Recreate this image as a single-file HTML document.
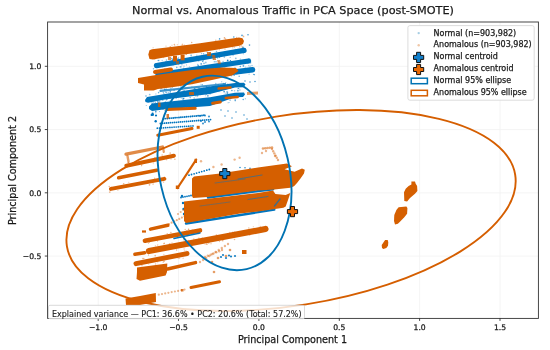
<!DOCTYPE html>
<html><head><meta charset="utf-8"><style>
html,body{margin:0;padding:0;background:#fff;width:550px;height:350px;overflow:hidden}
svg{display:block}
text{font-family:"DejaVu Sans","Liberation Sans",sans-serif;fill:#1a1a1a;stroke:#1a1a1a;stroke-width:0.25px}
</style></head><body>
<svg width="550" height="350" viewBox="0 0 550 350">
<defs><filter id="soft" x="-5%" y="-5%" width="110%" height="110%"><feGaussianBlur stdDeviation="0.45"/></filter></defs>
<rect width="550" height="350" fill="#fff"/>
<!-- grid -->
<g stroke="#f1f1f1" stroke-width="0.8">
<line x1="98.2" y1="22" x2="98.2" y2="318"/>
<line x1="178.5" y1="22" x2="178.5" y2="318"/>
<line x1="258.9" y1="22" x2="258.9" y2="318"/>
<line x1="339.3" y1="22" x2="339.3" y2="318"/>
<line x1="419.6" y1="22" x2="419.6" y2="318"/>
<line x1="500" y1="22" x2="500" y2="318"/>
<line x1="47.6" y1="66.3" x2="538.4" y2="66.3"/>
<line x1="47.6" y1="129.55" x2="538.4" y2="129.55"/>
<line x1="47.6" y1="192.8" x2="538.4" y2="192.8"/>
<line x1="47.6" y1="256.05" x2="538.4" y2="256.05"/>
</g>
<!-- scatter -->
<g id="scatter" filter="url(#soft)">
<line x1="156.5" y1="65.6" x2="244" y2="50.4" stroke="#0474BE" stroke-width="5.3" stroke-linecap="round"/>
<line x1="158" y1="74.8" x2="248.5" y2="61" stroke="#0474BE" stroke-width="5.3" stroke-linecap="round"/>
<line x1="175" y1="79.5" x2="252.5" y2="69.7" stroke="#0474BE" stroke-width="5.5" stroke-linecap="round"/>
<line x1="160.5" y1="90.8" x2="225" y2="84" stroke="#0474BE" stroke-width="2.2" stroke-linecap="round" stroke-opacity="0.75"/>
<polygon points="145,100 147,97 165,93.9 210,86.4 235,83.1 244,82.8 245.5,84.5 243.5,87.3 235,87.6 210,93.9 165,99.6 148,102.8 145.5,102" fill="#0474BE"/>
<polygon points="149,106.5 152,103.5 165,101.9 210,97.3 235,92.8 244,92.5 245,94.5 243,97 235,97.3 210,105.9 165,109.3 152,111 149,109" fill="#0474BE"/>
<circle cx="152.6" cy="113.5" r="1.1" fill="#0474BE"/>
<circle cx="156" cy="115.5" r="1.1" fill="#0474BE"/>
<circle cx="153" cy="114.8" r="1.1" fill="#0474BE"/>
<circle cx="163.6" cy="118.8" r="0.95" fill="#0474BE"/>
<circle cx="165.5" cy="118.6" r="0.95" fill="#0474BE"/>
<circle cx="167.4" cy="118.5" r="0.95" fill="#0474BE"/>
<circle cx="169.4" cy="118.3" r="0.95" fill="#0474BE"/>
<circle cx="171.3" cy="118.1" r="0.95" fill="#0474BE"/>
<circle cx="173.2" cy="118.0" r="0.95" fill="#0474BE"/>
<circle cx="175.1" cy="117.8" r="0.95" fill="#0474BE"/>
<circle cx="177.0" cy="117.6" r="0.95" fill="#0474BE"/>
<circle cx="179.0" cy="117.5" r="0.95" fill="#0474BE"/>
<circle cx="180.9" cy="117.3" r="0.95" fill="#0474BE"/>
<circle cx="182.8" cy="117.1" r="0.95" fill="#0474BE"/>
<circle cx="184.7" cy="117.0" r="0.95" fill="#0474BE"/>
<circle cx="186.6" cy="116.8" r="0.95" fill="#0474BE"/>
<circle cx="188.5" cy="116.6" r="0.95" fill="#0474BE"/>
<circle cx="190.5" cy="116.5" r="0.95" fill="#0474BE"/>
<circle cx="192.4" cy="116.3" r="0.95" fill="#0474BE"/>
<circle cx="194.3" cy="116.1" r="0.95" fill="#0474BE"/>
<circle cx="196.2" cy="116.0" r="0.95" fill="#0474BE"/>
<circle cx="198.1" cy="115.8" r="0.95" fill="#0474BE"/>
<circle cx="200.1" cy="115.6" r="0.95" fill="#0474BE"/>
<circle cx="202.0" cy="115.5" r="0.95" fill="#0474BE"/>
<circle cx="203.9" cy="115.3" r="0.95" fill="#0474BE"/>
<circle cx="160.4" cy="123.5" r="0.9" fill="#0474BE"/>
<circle cx="162.4" cy="123.3" r="0.9" fill="#0474BE"/>
<circle cx="164.4" cy="123.2" r="0.9" fill="#0474BE"/>
<circle cx="166.4" cy="123.0" r="0.9" fill="#0474BE"/>
<circle cx="168.4" cy="122.9" r="0.9" fill="#0474BE"/>
<circle cx="170.4" cy="122.7" r="0.9" fill="#0474BE"/>
<circle cx="172.4" cy="122.6" r="0.9" fill="#0474BE"/>
<circle cx="174.4" cy="122.4" r="0.9" fill="#0474BE"/>
<circle cx="176.4" cy="122.3" r="0.9" fill="#0474BE"/>
<circle cx="178.4" cy="122.1" r="0.9" fill="#0474BE"/>
<circle cx="180.4" cy="121.9" r="0.9" fill="#0474BE"/>
<circle cx="182.4" cy="121.8" r="0.9" fill="#0474BE"/>
<circle cx="184.4" cy="121.6" r="0.9" fill="#0474BE"/>
<circle cx="186.5" cy="121.5" r="0.9" fill="#0474BE"/>
<circle cx="188.5" cy="121.3" r="0.9" fill="#0474BE"/>
<circle cx="190.5" cy="121.2" r="0.9" fill="#0474BE"/>
<circle cx="192.5" cy="121.0" r="0.9" fill="#0474BE"/>
<circle cx="194.5" cy="120.8" r="0.9" fill="#0474BE"/>
<circle cx="196.5" cy="120.7" r="0.9" fill="#0474BE"/>
<circle cx="198.5" cy="120.5" r="0.9" fill="#0474BE"/>
<circle cx="200.5" cy="120.4" r="0.9" fill="#0474BE"/>
<circle cx="202.5" cy="120.2" r="0.9" fill="#0474BE"/>
<circle cx="204.5" cy="120.1" r="0.9" fill="#0474BE"/>
<circle cx="206.5" cy="119.9" r="0.9" fill="#0474BE"/>
<circle cx="208.5" cy="119.8" r="0.9" fill="#0474BE"/>
<circle cx="210.5" cy="119.6" r="0.9" fill="#0474BE"/>
<circle cx="157.3" cy="128.2" r="0.85" fill="#0474BE"/>
<circle cx="159.4" cy="128.1" r="0.85" fill="#0474BE"/>
<circle cx="161.5" cy="127.9" r="0.85" fill="#0474BE"/>
<circle cx="163.6" cy="127.8" r="0.85" fill="#0474BE"/>
<circle cx="165.7" cy="127.7" r="0.85" fill="#0474BE"/>
<circle cx="167.8" cy="127.5" r="0.85" fill="#0474BE"/>
<circle cx="169.9" cy="127.4" r="0.85" fill="#0474BE"/>
<circle cx="172.0" cy="127.3" r="0.85" fill="#0474BE"/>
<circle cx="174.1" cy="127.1" r="0.85" fill="#0474BE"/>
<circle cx="176.2" cy="127.0" r="0.85" fill="#0474BE"/>
<circle cx="178.3" cy="126.8" r="0.85" fill="#0474BE"/>
<circle cx="180.4" cy="126.7" r="0.85" fill="#0474BE"/>
<circle cx="182.5" cy="126.6" r="0.85" fill="#0474BE"/>
<circle cx="184.6" cy="126.4" r="0.85" fill="#0474BE"/>
<circle cx="186.7" cy="126.3" r="0.85" fill="#0474BE"/>
<circle cx="188.8" cy="126.2" r="0.85" fill="#0474BE"/>
<circle cx="190.9" cy="126.0" r="0.85" fill="#0474BE"/>
<circle cx="193.0" cy="125.9" r="0.85" fill="#0474BE"/>
<circle cx="151.8" cy="114.9" r="1.2" fill="#0474BE"/>
<circle cx="155.7" cy="121.2" r="1.2" fill="#0474BE"/>
<polygon points="166.5,114 169,114 169,118.5 166.5,118.5" fill="#D55E00" fill-opacity="0.8"/>
<circle cx="219.6" cy="38.9" r="0.8" fill="#0474BE" fill-opacity="0.7"/>
<circle cx="233.8" cy="37" r="0.8" fill="#0474BE" fill-opacity="0.7"/>
<circle cx="242" cy="35.4" r="0.8" fill="#0474BE" fill-opacity="0.7"/>
<circle cx="248" cy="34.8" r="0.8" fill="#0474BE" fill-opacity="0.7"/>
<circle cx="249.5" cy="45.1" r="0.8" fill="#0474BE" fill-opacity="0.7"/>
<circle cx="245" cy="81" r="0.8" fill="#0474BE" fill-opacity="0.7"/>
<circle cx="250" cy="82" r="0.8" fill="#0474BE" fill-opacity="0.7"/>
<circle cx="255" cy="81.5" r="0.8" fill="#0474BE" fill-opacity="0.7"/>
<circle cx="221" cy="110" r="0.8" fill="#0474BE" fill-opacity="0.7"/>
<circle cx="228" cy="111" r="0.8" fill="#0474BE" fill-opacity="0.7"/>
<circle cx="236" cy="112" r="0.8" fill="#0474BE" fill-opacity="0.7"/>
<circle cx="244" cy="115" r="0.8" fill="#0474BE" fill-opacity="0.7"/>
<circle cx="247" cy="119" r="0.8" fill="#0474BE" fill-opacity="0.7"/>
<circle cx="232" cy="118" r="0.8" fill="#0474BE" fill-opacity="0.7"/>
<circle cx="225" cy="116" r="0.8" fill="#0474BE" fill-opacity="0.7"/>
<circle cx="181.8" cy="57.9" r="0.52" fill="#0474BE" fill-opacity="0.63"/>
<circle cx="159.2" cy="60.3" r="0.59" fill="#0474BE" fill-opacity="0.33"/>
<circle cx="191.1" cy="57.2" r="0.67" fill="#0474BE" fill-opacity="0.63"/>
<circle cx="162.2" cy="60.6" r="0.73" fill="#0474BE" fill-opacity="0.32"/>
<circle cx="207.0" cy="52.0" r="0.52" fill="#0474BE" fill-opacity="0.64"/>
<circle cx="178.4" cy="58.1" r="0.73" fill="#0474BE" fill-opacity="0.52"/>
<circle cx="216.5" cy="51.4" r="0.76" fill="#0474BE" fill-opacity="0.45"/>
<circle cx="203.5" cy="53.7" r="0.75" fill="#0474BE" fill-opacity="0.50"/>
<circle cx="203.1" cy="60.7" r="0.87" fill="#0474BE" fill-opacity="0.44"/>
<circle cx="174.3" cy="58.3" r="0.60" fill="#0474BE" fill-opacity="0.53"/>
<circle cx="202.6" cy="61.5" r="0.62" fill="#0474BE" fill-opacity="0.69"/>
<circle cx="162.7" cy="66.7" r="0.64" fill="#0474BE" fill-opacity="0.67"/>
<circle cx="191.1" cy="55.3" r="0.73" fill="#0474BE" fill-opacity="0.65"/>
<circle cx="181.9" cy="64.7" r="0.73" fill="#0474BE" fill-opacity="0.48"/>
<circle cx="233.1" cy="55.6" r="0.77" fill="#0474BE" fill-opacity="0.32"/>
<circle cx="219.5" cy="57.4" r="0.65" fill="#0474BE" fill-opacity="0.57"/>
<circle cx="153.5" cy="68.8" r="0.74" fill="#0474BE" fill-opacity="0.50"/>
<circle cx="172.4" cy="65.0" r="0.60" fill="#0474BE" fill-opacity="0.46"/>
<circle cx="235.2" cy="49.4" r="0.66" fill="#0474BE" fill-opacity="0.41"/>
<circle cx="164.9" cy="68.3" r="0.61" fill="#0474BE" fill-opacity="0.47"/>
<circle cx="186.5" cy="64.9" r="0.56" fill="#0474BE" fill-opacity="0.37"/>
<circle cx="173.1" cy="60.5" r="0.83" fill="#0474BE" fill-opacity="0.37"/>
<circle cx="177.7" cy="58.6" r="0.65" fill="#0474BE" fill-opacity="0.53"/>
<circle cx="243.0" cy="47.3" r="0.85" fill="#0474BE" fill-opacity="0.68"/>
<circle cx="217.5" cy="58.0" r="0.66" fill="#0474BE" fill-opacity="0.49"/>
<circle cx="189.4" cy="57.5" r="0.58" fill="#0474BE" fill-opacity="0.36"/>
<circle cx="183.5" cy="58.5" r="0.73" fill="#0474BE" fill-opacity="0.51"/>
<circle cx="242.7" cy="48.4" r="0.58" fill="#0474BE" fill-opacity="0.45"/>
<circle cx="213.1" cy="59.3" r="0.69" fill="#0474BE" fill-opacity="0.35"/>
<circle cx="198.8" cy="61.4" r="0.62" fill="#0474BE" fill-opacity="0.36"/>
<circle cx="224.3" cy="57.1" r="0.78" fill="#0474BE" fill-opacity="0.51"/>
<circle cx="171.2" cy="65.2" r="0.72" fill="#0474BE" fill-opacity="0.31"/>
<circle cx="201.5" cy="53.7" r="0.60" fill="#0474BE" fill-opacity="0.45"/>
<circle cx="166.5" cy="60.1" r="0.81" fill="#0474BE" fill-opacity="0.43"/>
<circle cx="171.8" cy="58.5" r="0.83" fill="#0474BE" fill-opacity="0.60"/>
<circle cx="173.4" cy="65.5" r="0.51" fill="#0474BE" fill-opacity="0.31"/>
<circle cx="178.4" cy="64.1" r="0.74" fill="#0474BE" fill-opacity="0.44"/>
<circle cx="230.2" cy="57.4" r="0.65" fill="#0474BE" fill-opacity="0.39"/>
<circle cx="172.4" cy="59.7" r="0.69" fill="#0474BE" fill-opacity="0.69"/>
<circle cx="209.6" cy="52.9" r="0.76" fill="#0474BE" fill-opacity="0.62"/>
<circle cx="158.3" cy="60.5" r="0.81" fill="#0474BE" fill-opacity="0.60"/>
<circle cx="196.8" cy="55.2" r="0.75" fill="#0474BE" fill-opacity="0.33"/>
<circle cx="243.4" cy="53.8" r="0.80" fill="#0474BE" fill-opacity="0.33"/>
<circle cx="165.9" cy="61.7" r="0.74" fill="#0474BE" fill-opacity="0.49"/>
<circle cx="215.2" cy="59.1" r="0.64" fill="#0474BE" fill-opacity="0.52"/>
<circle cx="167.2" cy="69.0" r="0.79" fill="#0474BE" fill-opacity="0.34"/>
<circle cx="227.8" cy="60.4" r="0.85" fill="#0474BE" fill-opacity="0.63"/>
<circle cx="176.1" cy="74.6" r="0.70" fill="#0474BE" fill-opacity="0.61"/>
<circle cx="187.6" cy="74.5" r="0.52" fill="#0474BE" fill-opacity="0.60"/>
<circle cx="243.5" cy="65.6" r="0.85" fill="#0474BE" fill-opacity="0.35"/>
<circle cx="169.2" cy="68.5" r="0.81" fill="#0474BE" fill-opacity="0.54"/>
<circle cx="230.5" cy="60.7" r="0.69" fill="#0474BE" fill-opacity="0.59"/>
<circle cx="210.1" cy="70.5" r="0.71" fill="#0474BE" fill-opacity="0.49"/>
<circle cx="230.5" cy="60.5" r="0.61" fill="#0474BE" fill-opacity="0.61"/>
<circle cx="204.0" cy="63.3" r="0.86" fill="#0474BE" fill-opacity="0.48"/>
<circle cx="214.3" cy="61.8" r="0.68" fill="#0474BE" fill-opacity="0.51"/>
<circle cx="201.2" cy="63.9" r="0.85" fill="#0474BE" fill-opacity="0.68"/>
<circle cx="179.8" cy="66.9" r="0.55" fill="#0474BE" fill-opacity="0.35"/>
<circle cx="197.7" cy="64.5" r="0.67" fill="#0474BE" fill-opacity="0.39"/>
<circle cx="184.0" cy="66.1" r="0.56" fill="#0474BE" fill-opacity="0.59"/>
<circle cx="219.2" cy="62.3" r="0.55" fill="#0474BE" fill-opacity="0.49"/>
<circle cx="227.5" cy="60.5" r="0.69" fill="#0474BE" fill-opacity="0.70"/>
<circle cx="235.8" cy="58.3" r="0.90" fill="#0474BE" fill-opacity="0.46"/>
<circle cx="196.7" cy="71.6" r="0.79" fill="#0474BE" fill-opacity="0.31"/>
<circle cx="209.9" cy="70.6" r="0.65" fill="#0474BE" fill-opacity="0.51"/>
<circle cx="183.6" cy="68.4" r="0.87" fill="#0474BE" fill-opacity="0.39"/>
<circle cx="240.3" cy="58.9" r="0.52" fill="#0474BE" fill-opacity="0.61"/>
<circle cx="180.8" cy="66.8" r="0.84" fill="#0474BE" fill-opacity="0.57"/>
<circle cx="247.9" cy="63.0" r="0.87" fill="#0474BE" fill-opacity="0.53"/>
<circle cx="223.1" cy="61.6" r="0.82" fill="#0474BE" fill-opacity="0.37"/>
<circle cx="243.3" cy="66.0" r="0.75" fill="#0474BE" fill-opacity="0.62"/>
<circle cx="162.9" cy="71.8" r="0.85" fill="#0474BE" fill-opacity="0.48"/>
<circle cx="189.0" cy="74.6" r="0.61" fill="#0474BE" fill-opacity="0.35"/>
<circle cx="205.8" cy="62.5" r="0.89" fill="#0474BE" fill-opacity="0.40"/>
<circle cx="173.4" cy="76.2" r="0.71" fill="#0474BE" fill-opacity="0.38"/>
<circle cx="198.2" cy="65.6" r="0.82" fill="#0474BE" fill-opacity="0.70"/>
<circle cx="158.1" cy="70.7" r="0.72" fill="#0474BE" fill-opacity="0.38"/>
<circle cx="201.9" cy="70.2" r="0.83" fill="#0474BE" fill-opacity="0.47"/>
<circle cx="204.2" cy="72.3" r="0.62" fill="#0474BE" fill-opacity="0.39"/>
<circle cx="176.8" cy="67.4" r="0.78" fill="#0474BE" fill-opacity="0.55"/>
<circle cx="195.4" cy="73.7" r="0.83" fill="#0474BE" fill-opacity="0.31"/>
<circle cx="216.7" cy="68.8" r="0.52" fill="#0474BE" fill-opacity="0.57"/>
<circle cx="192.9" cy="73.0" r="0.78" fill="#0474BE" fill-opacity="0.32"/>
<circle cx="173.7" cy="75.7" r="0.61" fill="#0474BE" fill-opacity="0.68"/>
<circle cx="250.5" cy="62.8" r="0.89" fill="#0474BE" fill-opacity="0.42"/>
<circle cx="189.5" cy="66.8" r="0.53" fill="#0474BE" fill-opacity="0.41"/>
<circle cx="218.6" cy="61.6" r="0.50" fill="#0474BE" fill-opacity="0.41"/>
<circle cx="164.5" cy="77.5" r="0.66" fill="#0474BE" fill-opacity="0.42"/>
<circle cx="216.0" cy="61.8" r="0.71" fill="#0474BE" fill-opacity="0.60"/>
<circle cx="220.0" cy="69.2" r="0.79" fill="#0474BE" fill-opacity="0.50"/>
<circle cx="196.7" cy="74.2" r="0.83" fill="#0474BE" fill-opacity="0.66"/>
<circle cx="224.8" cy="68.2" r="0.80" fill="#0474BE" fill-opacity="0.53"/>
<circle cx="240.3" cy="66.4" r="0.73" fill="#0474BE" fill-opacity="0.66"/>
<circle cx="229.7" cy="69.9" r="0.52" fill="#0474BE" fill-opacity="0.55"/>
<circle cx="253.6" cy="74.4" r="0.72" fill="#0474BE" fill-opacity="0.55"/>
<circle cx="224.9" cy="69.3" r="0.50" fill="#0474BE" fill-opacity="0.62"/>
<circle cx="235.0" cy="67.6" r="0.53" fill="#0474BE" fill-opacity="0.59"/>
<circle cx="193.7" cy="72.3" r="0.59" fill="#0474BE" fill-opacity="0.60"/>
<circle cx="193.0" cy="81.1" r="0.65" fill="#0474BE" fill-opacity="0.49"/>
<circle cx="229.6" cy="68.4" r="0.76" fill="#0474BE" fill-opacity="0.33"/>
<circle cx="186.2" cy="82.4" r="0.78" fill="#0474BE" fill-opacity="0.55"/>
<circle cx="184.8" cy="80.9" r="0.61" fill="#0474BE" fill-opacity="0.57"/>
<circle cx="231.3" cy="75.7" r="0.71" fill="#0474BE" fill-opacity="0.49"/>
<circle cx="211.4" cy="69.6" r="0.72" fill="#0474BE" fill-opacity="0.42"/>
<circle cx="180.8" cy="81.3" r="0.68" fill="#0474BE" fill-opacity="0.63"/>
<circle cx="254.4" cy="74.7" r="0.65" fill="#0474BE" fill-opacity="0.67"/>
<circle cx="250.1" cy="65.9" r="0.56" fill="#0474BE" fill-opacity="0.51"/>
<circle cx="252.0" cy="65.6" r="0.75" fill="#0474BE" fill-opacity="0.41"/>
<circle cx="183.1" cy="81.6" r="0.86" fill="#0474BE" fill-opacity="0.49"/>
<circle cx="174.8" cy="74.4" r="0.77" fill="#0474BE" fill-opacity="0.46"/>
<circle cx="234.2" cy="75.4" r="0.63" fill="#0474BE" fill-opacity="0.64"/>
<circle cx="174.2" cy="84.4" r="0.55" fill="#0474BE" fill-opacity="0.67"/>
<circle cx="233.0" cy="75.3" r="0.53" fill="#0474BE" fill-opacity="0.46"/>
<circle cx="245.2" cy="67.1" r="0.67" fill="#0474BE" fill-opacity="0.41"/>
<circle cx="177.1" cy="76.6" r="0.76" fill="#0474BE" fill-opacity="0.55"/>
<circle cx="186.2" cy="81.8" r="0.63" fill="#0474BE" fill-opacity="0.61"/>
<circle cx="239.2" cy="76.3" r="0.82" fill="#0474BE" fill-opacity="0.55"/>
<circle cx="248.7" cy="65.7" r="0.52" fill="#0474BE" fill-opacity="0.59"/>
<circle cx="210.3" cy="70.7" r="0.61" fill="#0474BE" fill-opacity="0.32"/>
<circle cx="250.0" cy="67.1" r="0.67" fill="#0474BE" fill-opacity="0.41"/>
<circle cx="195.1" cy="80.6" r="0.60" fill="#0474BE" fill-opacity="0.49"/>
<circle cx="228.5" cy="69.8" r="0.56" fill="#0474BE" fill-opacity="0.38"/>
<circle cx="249.1" cy="74.1" r="0.68" fill="#0474BE" fill-opacity="0.43"/>
<circle cx="236.8" cy="74.5" r="0.58" fill="#0474BE" fill-opacity="0.34"/>
<circle cx="201.4" cy="72.8" r="0.65" fill="#0474BE" fill-opacity="0.62"/>
<circle cx="163.3" cy="92.4" r="0.67" fill="#0474BE" fill-opacity="0.47"/>
<circle cx="195.8" cy="95.8" r="0.80" fill="#0474BE" fill-opacity="0.50"/>
<circle cx="200.6" cy="94.6" r="0.70" fill="#0474BE" fill-opacity="0.55"/>
<circle cx="227.6" cy="84.3" r="0.86" fill="#0474BE" fill-opacity="0.45"/>
<circle cx="207.9" cy="95.8" r="0.84" fill="#0474BE" fill-opacity="0.65"/>
<circle cx="146.0" cy="96.0" r="0.81" fill="#0474BE" fill-opacity="0.62"/>
<circle cx="238.7" cy="88.4" r="0.66" fill="#0474BE" fill-opacity="0.67"/>
<circle cx="225.3" cy="93.2" r="0.60" fill="#0474BE" fill-opacity="0.34"/>
<circle cx="158.6" cy="92.6" r="0.79" fill="#0474BE" fill-opacity="0.56"/>
<circle cx="219.0" cy="91.6" r="0.81" fill="#0474BE" fill-opacity="0.30"/>
<circle cx="155.9" cy="93.9" r="0.62" fill="#0474BE" fill-opacity="0.35"/>
<circle cx="169.6" cy="101.0" r="0.54" fill="#0474BE" fill-opacity="0.33"/>
<circle cx="194.7" cy="88.6" r="0.59" fill="#0474BE" fill-opacity="0.54"/>
<circle cx="146.3" cy="105.5" r="0.61" fill="#0474BE" fill-opacity="0.43"/>
<circle cx="225.2" cy="83.6" r="0.59" fill="#0474BE" fill-opacity="0.40"/>
<circle cx="238.0" cy="88.6" r="0.58" fill="#0474BE" fill-opacity="0.65"/>
<circle cx="206.6" cy="87.1" r="0.77" fill="#0474BE" fill-opacity="0.67"/>
<circle cx="165.7" cy="92.2" r="0.79" fill="#0474BE" fill-opacity="0.44"/>
<circle cx="182.1" cy="89.4" r="0.80" fill="#0474BE" fill-opacity="0.50"/>
<circle cx="163.8" cy="93.6" r="0.83" fill="#0474BE" fill-opacity="0.39"/>
<circle cx="166.4" cy="99.8" r="0.75" fill="#0474BE" fill-opacity="0.54"/>
<circle cx="231.9" cy="90.6" r="0.77" fill="#0474BE" fill-opacity="0.68"/>
<circle cx="159.1" cy="100.8" r="0.51" fill="#0474BE" fill-opacity="0.54"/>
<circle cx="184.2" cy="90.8" r="0.68" fill="#0474BE" fill-opacity="0.58"/>
<circle cx="174.1" cy="90.1" r="0.87" fill="#0474BE" fill-opacity="0.43"/>
<circle cx="162.8" cy="100.2" r="0.77" fill="#0474BE" fill-opacity="0.45"/>
<circle cx="181.3" cy="98.5" r="0.54" fill="#0474BE" fill-opacity="0.33"/>
<circle cx="153.1" cy="104.3" r="0.55" fill="#0474BE" fill-opacity="0.69"/>
<circle cx="165.3" cy="101.9" r="0.62" fill="#0474BE" fill-opacity="0.62"/>
<circle cx="153.4" cy="102.1" r="0.72" fill="#0474BE" fill-opacity="0.48"/>
<circle cx="176.2" cy="98.1" r="0.66" fill="#0474BE" fill-opacity="0.62"/>
<circle cx="218.2" cy="85.0" r="0.69" fill="#0474BE" fill-opacity="0.62"/>
<circle cx="149.7" cy="94.5" r="0.86" fill="#0474BE" fill-opacity="0.44"/>
<circle cx="170.3" cy="92.7" r="0.79" fill="#0474BE" fill-opacity="0.43"/>
<circle cx="170.4" cy="91.4" r="0.74" fill="#0474BE" fill-opacity="0.62"/>
<circle cx="235.8" cy="83.3" r="0.59" fill="#0474BE" fill-opacity="0.49"/>
<circle cx="237.9" cy="90.7" r="0.87" fill="#0474BE" fill-opacity="0.63"/>
<circle cx="157.8" cy="101.4" r="0.82" fill="#0474BE" fill-opacity="0.60"/>
<circle cx="223.5" cy="83.5" r="0.63" fill="#0474BE" fill-opacity="0.43"/>
<circle cx="178.9" cy="90.7" r="0.66" fill="#0474BE" fill-opacity="0.36"/>
<circle cx="183.3" cy="90.1" r="0.72" fill="#0474BE" fill-opacity="0.36"/>
<circle cx="184.9" cy="88.4" r="0.61" fill="#0474BE" fill-opacity="0.33"/>
<circle cx="154.6" cy="104.1" r="0.89" fill="#0474BE" fill-opacity="0.37"/>
<circle cx="158.0" cy="102.6" r="0.77" fill="#0474BE" fill-opacity="0.60"/>
<circle cx="225.8" cy="82.7" r="0.62" fill="#0474BE" fill-opacity="0.41"/>
<circle cx="175.4" cy="109.4" r="0.58" fill="#0474BE" fill-opacity="0.40"/>
<circle cx="171.9" cy="100.5" r="0.86" fill="#0474BE" fill-opacity="0.38"/>
<circle cx="155.8" cy="112.8" r="0.70" fill="#0474BE" fill-opacity="0.39"/>
<circle cx="228.1" cy="102.7" r="0.54" fill="#0474BE" fill-opacity="0.49"/>
<circle cx="229.1" cy="102.4" r="0.52" fill="#0474BE" fill-opacity="0.42"/>
<circle cx="159.6" cy="101.3" r="0.83" fill="#0474BE" fill-opacity="0.38"/>
<circle cx="155.3" cy="102.3" r="0.60" fill="#0474BE" fill-opacity="0.61"/>
<circle cx="239.9" cy="90.0" r="0.78" fill="#0474BE" fill-opacity="0.44"/>
<circle cx="152.8" cy="110.8" r="0.58" fill="#0474BE" fill-opacity="0.40"/>
<circle cx="206.2" cy="94.2" r="0.83" fill="#0474BE" fill-opacity="0.46"/>
<circle cx="185.3" cy="106.1" r="0.51" fill="#0474BE" fill-opacity="0.50"/>
<circle cx="196.1" cy="104.7" r="0.66" fill="#0474BE" fill-opacity="0.52"/>
<circle cx="210.1" cy="94.1" r="0.66" fill="#0474BE" fill-opacity="0.41"/>
<circle cx="245.3" cy="98.7" r="0.52" fill="#0474BE" fill-opacity="0.60"/>
<circle cx="235.2" cy="100.1" r="0.85" fill="#0474BE" fill-opacity="0.70"/>
<circle cx="183.4" cy="98.6" r="0.66" fill="#0474BE" fill-opacity="0.68"/>
<circle cx="190.2" cy="97.5" r="0.83" fill="#0474BE" fill-opacity="0.46"/>
<circle cx="235.2" cy="101.1" r="0.55" fill="#0474BE" fill-opacity="0.32"/>
<circle cx="163.0" cy="109.2" r="0.75" fill="#0474BE" fill-opacity="0.45"/>
<circle cx="197.1" cy="96.8" r="0.56" fill="#0474BE" fill-opacity="0.37"/>
<circle cx="155.8" cy="111.4" r="0.82" fill="#0474BE" fill-opacity="0.69"/>
<circle cx="167.1" cy="99.6" r="0.52" fill="#0474BE" fill-opacity="0.67"/>
<circle cx="179.7" cy="106.9" r="0.78" fill="#0474BE" fill-opacity="0.58"/>
<circle cx="234.6" cy="90.8" r="0.75" fill="#0474BE" fill-opacity="0.38"/>
<circle cx="194.2" cy="98.1" r="0.88" fill="#0474BE" fill-opacity="0.36"/>
<circle cx="183.0" cy="99.0" r="0.79" fill="#0474BE" fill-opacity="0.66"/>
<circle cx="151.9" cy="102.2" r="0.63" fill="#0474BE" fill-opacity="0.46"/>
<circle cx="193.6" cy="106.6" r="0.62" fill="#0474BE" fill-opacity="0.40"/>
<circle cx="187.1" cy="106.9" r="0.68" fill="#0474BE" fill-opacity="0.31"/>
<circle cx="209.4" cy="103.9" r="0.68" fill="#0474BE" fill-opacity="0.55"/>
<circle cx="227.5" cy="91.3" r="0.66" fill="#0474BE" fill-opacity="0.33"/>
<circle cx="184.0" cy="106.3" r="0.68" fill="#0474BE" fill-opacity="0.50"/>
<circle cx="152.1" cy="103.8" r="0.79" fill="#0474BE" fill-opacity="0.61"/>
<circle cx="197.6" cy="95.6" r="0.86" fill="#0474BE" fill-opacity="0.56"/>
<circle cx="224.1" cy="91.6" r="0.90" fill="#0474BE" fill-opacity="0.59"/>
<circle cx="227.4" cy="93.2" r="0.85" fill="#0474BE" fill-opacity="0.42"/>
<circle cx="226.8" cy="91.7" r="0.79" fill="#0474BE" fill-opacity="0.39"/>
<circle cx="230.1" cy="100.1" r="0.86" fill="#0474BE" fill-opacity="0.41"/>
<circle cx="227.4" cy="92.9" r="0.89" fill="#0474BE" fill-opacity="0.49"/>
<circle cx="205.6" cy="95.7" r="0.51" fill="#0474BE" fill-opacity="0.37"/>
<circle cx="165.0" cy="110.6" r="0.86" fill="#0474BE" fill-opacity="0.37"/>
<circle cx="224.2" cy="91.8" r="0.52" fill="#0474BE" fill-opacity="0.64"/>
<circle cx="243.2" cy="99.4" r="0.73" fill="#0474BE" fill-opacity="0.65"/>
<circle cx="159.5" cy="111.6" r="0.65" fill="#0474BE" fill-opacity="0.45"/>
<circle cx="183.9" cy="98.6" r="0.81" fill="#0474BE" fill-opacity="0.48"/>
<circle cx="170.9" cy="88.3" r="0.71" fill="#0474BE" fill-opacity="0.42"/>
<circle cx="224.3" cy="86.8" r="0.80" fill="#0474BE" fill-opacity="0.39"/>
<circle cx="178.9" cy="90.9" r="0.65" fill="#0474BE" fill-opacity="0.32"/>
<circle cx="191.9" cy="86.8" r="0.50" fill="#0474BE" fill-opacity="0.44"/>
<circle cx="166.6" cy="92.5" r="0.67" fill="#0474BE" fill-opacity="0.42"/>
<circle cx="168.4" cy="92.6" r="0.69" fill="#0474BE" fill-opacity="0.35"/>
<circle cx="221.7" cy="81.7" r="0.68" fill="#0474BE" fill-opacity="0.33"/>
<circle cx="169.1" cy="91.9" r="0.61" fill="#0474BE" fill-opacity="0.30"/>
<circle cx="202.7" cy="88.8" r="0.73" fill="#0474BE" fill-opacity="0.54"/>
<circle cx="194.1" cy="88.8" r="0.86" fill="#0474BE" fill-opacity="0.32"/>
<circle cx="195.0" cy="88.5" r="0.56" fill="#0474BE" fill-opacity="0.66"/>
<circle cx="166.1" cy="89.3" r="0.58" fill="#0474BE" fill-opacity="0.54"/>
<circle cx="193.5" cy="90.4" r="0.57" fill="#0474BE" fill-opacity="0.42"/>
<circle cx="179.0" cy="85.5" r="0.79" fill="#0474BE" fill-opacity="0.49"/>
<circle cx="195.7" cy="90.3" r="0.80" fill="#0474BE" fill-opacity="0.49"/>
<circle cx="209.1" cy="86.9" r="0.90" fill="#0474BE" fill-opacity="0.40"/>
<circle cx="202.2" cy="84.8" r="0.80" fill="#0474BE" fill-opacity="0.58"/>
<circle cx="215.8" cy="83.5" r="0.72" fill="#0474BE" fill-opacity="0.47"/>
<circle cx="212.3" cy="86.9" r="0.87" fill="#0474BE" fill-opacity="0.66"/>
<circle cx="164.8" cy="89.3" r="0.86" fill="#0474BE" fill-opacity="0.64"/>
<circle cx="172.5" cy="86.9" r="0.63" fill="#0474BE" fill-opacity="0.65"/>
<circle cx="181.1" cy="87.0" r="0.84" fill="#0474BE" fill-opacity="0.67"/>
<circle cx="225.3" cy="86.0" r="0.71" fill="#0474BE" fill-opacity="0.30"/>
<circle cx="160.7" cy="88.7" r="0.62" fill="#0474BE" fill-opacity="0.38"/>
<circle cx="200.7" cy="84.3" r="0.57" fill="#0474BE" fill-opacity="0.31"/>
<circle cx="166.5" cy="88.7" r="0.56" fill="#0474BE" fill-opacity="0.31"/>
<circle cx="161.7" cy="88.2" r="0.79" fill="#0474BE" fill-opacity="0.33"/>
<circle cx="199.0" cy="88.1" r="0.88" fill="#0474BE" fill-opacity="0.51"/>
<circle cx="203.9" cy="87.3" r="0.58" fill="#0474BE" fill-opacity="0.34"/>
<circle cx="161.2" cy="87.9" r="0.75" fill="#0474BE" fill-opacity="0.41"/>
<circle cx="189.0" cy="175.2" r="0.9" fill="#0474BE"/>
<circle cx="191.5" cy="174.5" r="0.9" fill="#0474BE"/>
<circle cx="194.1" cy="173.8" r="0.9" fill="#0474BE"/>
<circle cx="196.6" cy="173.1" r="0.9" fill="#0474BE"/>
<circle cx="199.2" cy="172.3" r="0.9" fill="#0474BE"/>
<circle cx="201.7" cy="171.6" r="0.9" fill="#0474BE"/>
<circle cx="204.2" cy="170.9" r="0.9" fill="#0474BE"/>
<circle cx="206.8" cy="170.2" r="0.9" fill="#0474BE"/>
<circle cx="209.3" cy="169.5" r="0.9" fill="#0474BE"/>
<circle cx="240" cy="167.5" r="0.8" fill="#0474BE" fill-opacity="0.8"/>
<circle cx="245" cy="167.8" r="0.8" fill="#0474BE" fill-opacity="0.8"/>
<circle cx="250" cy="168.4" r="0.8" fill="#0474BE" fill-opacity="0.8"/>
<line x1="208" y1="197.5" x2="273.1" y2="189.2" stroke="#0474BE" stroke-width="2.4" stroke-linecap="round"/>
<line x1="186" y1="223.5" x2="274.3" y2="209.6" stroke="#0474BE" stroke-width="2.4" stroke-linecap="round"/>
<circle cx="182" cy="196" r="1.2" fill="#0474BE"/>
<circle cx="183" cy="203" r="1.2" fill="#0474BE"/>
<circle cx="183.5" cy="209" r="1.2" fill="#0474BE"/>
<circle cx="184" cy="214" r="1.2" fill="#0474BE"/>
<circle cx="186" cy="217" r="1.2" fill="#0474BE"/>
<circle cx="181.0" cy="197.5" r="0.9" fill="#0474BE"/>
<circle cx="183.0" cy="197.1" r="0.9" fill="#0474BE"/>
<circle cx="185.0" cy="196.7" r="0.9" fill="#0474BE"/>
<circle cx="187.0" cy="196.3" r="0.9" fill="#0474BE"/>
<circle cx="189.0" cy="195.9" r="0.9" fill="#0474BE"/>
<circle cx="191.0" cy="195.5" r="0.9" fill="#0474BE"/>
<polygon points="152,49.2 175,46.6 200,43.2 239,37.6 242.5,38.3 244,41 243,44 239.5,45.8 200,52.4 175,55.6 153,59.6 149.5,59 148.3,54.5 149.5,50.3" fill="#D55E00"/>
<line x1="155" y1="72" x2="171" y2="69.5" stroke="#D55E00" stroke-width="4" stroke-linecap="round"/>
<polygon points="173,55.7 177,55.7 177,61.4 173,61.4" fill="#D55E00"/>
<polygon points="180.6,54.6 184.6,54.6 184.6,60.3 180.6,60.3" fill="#D55E00"/>
<polygon points="207,52 211,52 211,56 207,56" fill="#D55E00" fill-opacity="0.8"/>
<polygon points="212,55 215,55 216,60 213,60" fill="#D55E00" fill-opacity="0.7"/>
<polygon points="217,60 220,60 221,64 218,64" fill="#D55E00" fill-opacity="0.6"/>
<polygon points="168,57 171,57 171,60 168,60" fill="#D55E00" fill-opacity="0.7"/>
<polygon points="176,61 179,61 179,64 176,64" fill="#D55E00" fill-opacity="0.6"/>
<polygon points="138,78 156,75 192,70 222,67.5 236,68 238.5,71 232,75.5 212,80 192,84.2 172,87.2 158,89 153.6,90.6 144,90.5 144,84.5 138,83" fill="#D55E00"/>
<line x1="166.8" y1="109.6" x2="195.2" y2="108.3" stroke="#D55E00" stroke-width="3" stroke-linecap="round"/>
<line x1="212.6" y1="103.2" x2="220.3" y2="102" stroke="#D55E00" stroke-width="3" stroke-linecap="round"/>
<line x1="218.6" y1="88.6" x2="230.5" y2="87.4" stroke="#D55E00" stroke-width="2.5" stroke-linecap="round"/>
<line x1="225.7" y1="98" x2="237.6" y2="97" stroke="#D55E00" stroke-width="2.5" stroke-linecap="round"/>
<polygon points="189,92 194,92 194,95 189,95" fill="#D55E00" fill-opacity="0.8"/>
<polygon points="158,102.5 160.5,102.5 160.5,107 158,107" fill="#D55E00" fill-opacity="0.8"/>
<polygon points="247,92 258,91.5 258,94.5 247,95" fill="#D55E00" fill-opacity="0.6"/>
<line x1="157.8" y1="135.3" x2="192" y2="128.5" stroke="#D55E00" stroke-width="3" stroke-linecap="round"/>
<polygon points="196.7,125.8 199.7,125.8 199.7,128.8 196.7,128.8" fill="#D55E00"/>
<line x1="126" y1="154.2" x2="162.5" y2="147" stroke="#D55E00" stroke-width="3.3" stroke-linecap="round" stroke-opacity="0.72"/>
<line x1="127.5" y1="156" x2="128.5" y2="161.5" stroke="#D55E00" stroke-width="2.4" stroke-linecap="round" stroke-opacity="0.6"/>
<line x1="163.2" y1="148" x2="163.8" y2="152" stroke="#D55E00" stroke-width="2.2" stroke-linecap="round" stroke-opacity="0.6"/>
<line x1="126.3" y1="165.7" x2="173.9" y2="155.7" stroke="#D55E00" stroke-width="4" stroke-linecap="round"/>
<line x1="118.6" y1="177.8" x2="156.7" y2="170.3" stroke="#D55E00" stroke-width="3.5" stroke-linecap="round"/>
<line x1="110.9" y1="188.9" x2="164.4" y2="178.9" stroke="#D55E00" stroke-width="4" stroke-linecap="round"/>
<line x1="177.5" y1="188" x2="196.2" y2="159.6" stroke="#D55E00" stroke-width="2.2" stroke-linecap="round"/>
<polygon points="175.8,185.5 179.2,185.5 179.2,189 175.8,189" fill="#D55E00"/>
<polygon points="194.5,158.8 197,158.8 197,163 194.5,163" fill="#D55E00"/>
<circle cx="201" cy="161.3" r="1.2" fill="#D55E00" fill-opacity="0.45"/>
<circle cx="221.6" cy="164.5" r="1.2" fill="#D55E00" fill-opacity="0.45"/>
<circle cx="234.6" cy="159.6" r="1.2" fill="#D55E00" fill-opacity="0.45"/>
<circle cx="239.6" cy="157.7" r="1.2" fill="#D55E00" fill-opacity="0.45"/>
<circle cx="213.4" cy="167" r="1.2" fill="#D55E00" fill-opacity="0.45"/>
<polygon points="192,178.5 194,176.5 218,173.8 258,167.5 286.9,163.4 292,166.3 284.5,169.3 294.6,171.8 302,168.6 304.8,169.8 304,173.5 300.5,178.5 297,183 294,186.3 290.3,187.7 274.3,189.6 258,190.5 208,197 193,198 192,196" fill="#D55E00"/>
<polygon points="184,201.5 258,193 273,190.5 275.4,194 285.7,195.1 290.3,192.9 288,200 285.7,206.6 283.4,207.7 258,211.5 240,213.6 186,223 184,221" fill="#D55E00"/>
<line x1="238" y1="179" x2="262" y2="175" stroke="#0474BE" stroke-width="1" stroke-linecap="round" stroke-opacity="0.6"/>
<line x1="215" y1="183" x2="245" y2="179" stroke="#0474BE" stroke-width="0.9" stroke-linecap="round" stroke-opacity="0.5"/>
<line x1="248" y1="199.5" x2="268" y2="196.5" stroke="#0474BE" stroke-width="1" stroke-linecap="round" stroke-opacity="0.6"/>
<line x1="274.5" y1="206" x2="280" y2="199" stroke="#0474BE" stroke-width="1.4" stroke-linecap="round" stroke-opacity="0.7"/>
<line x1="200" y1="206" x2="230" y2="202" stroke="#0474BE" stroke-width="0.9" stroke-linecap="round" stroke-opacity="0.45"/>
<circle cx="178.0" cy="214.0" r="1.1" fill="#D55E00" fill-opacity="0.45"/>
<circle cx="180.7" cy="212.0" r="1.1" fill="#D55E00" fill-opacity="0.45"/>
<circle cx="183.3" cy="210.0" r="1.1" fill="#D55E00" fill-opacity="0.45"/>
<circle cx="186.0" cy="208.0" r="1.1" fill="#D55E00" fill-opacity="0.45"/>
<polygon points="142,230.4 146,230.4 146,232.6 142,232.6" fill="#D55E00"/>
<line x1="150.5" y1="229.1" x2="167.8" y2="225.3" stroke="#D55E00" stroke-width="3.5" stroke-linecap="round"/>
<circle cx="169.0" cy="224.0" r="1.1" fill="#D55E00" fill-opacity="0.5"/>
<circle cx="171.6" cy="222.7" r="1.1" fill="#D55E00" fill-opacity="0.5"/>
<circle cx="174.2" cy="221.4" r="1.1" fill="#D55E00" fill-opacity="0.5"/>
<circle cx="176.8" cy="220.2" r="1.1" fill="#D55E00" fill-opacity="0.5"/>
<circle cx="179.3" cy="218.9" r="1.1" fill="#D55E00" fill-opacity="0.5"/>
<circle cx="181.9" cy="217.6" r="1.1" fill="#D55E00" fill-opacity="0.5"/>
<circle cx="184.5" cy="216.3" r="1.1" fill="#D55E00" fill-opacity="0.5"/>
<line x1="144.9" y1="240.7" x2="200" y2="230.4" stroke="#D55E00" stroke-width="4.6" stroke-linecap="round"/>
<line x1="174" y1="238.5" x2="200" y2="233" stroke="#0474BE" stroke-width="1.5" stroke-linecap="round"/>
<line x1="148.9" y1="251" x2="265.5" y2="229" stroke="#D55E00" stroke-width="6.2" stroke-linecap="round"/>
<line x1="134.9" y1="254.2" x2="144.7" y2="252.8" stroke="#D55E00" stroke-width="3.5" stroke-linecap="round"/>
<line x1="136" y1="263.6" x2="187" y2="253.6" stroke="#D55E00" stroke-width="5" stroke-linecap="round"/>
<polygon points="137,267.6 167.3,263.5 167,272 165.6,275.5 140,280.8 136.5,279 137,272" fill="#D55E00"/>
<line x1="167.5" y1="269" x2="195.5" y2="262.6" stroke="#D55E00" stroke-width="3.5" stroke-linecap="round"/>
<circle cx="200.0" cy="262.0" r="1.2" fill="#D55E00" fill-opacity="0.45"/>
<circle cx="203.1" cy="260.0" r="1.2" fill="#D55E00" fill-opacity="0.45"/>
<circle cx="206.2" cy="258.0" r="1.2" fill="#D55E00" fill-opacity="0.45"/>
<circle cx="209.3" cy="256.0" r="1.2" fill="#D55E00" fill-opacity="0.45"/>
<circle cx="212.4" cy="254.0" r="1.2" fill="#D55E00" fill-opacity="0.45"/>
<circle cx="215.6" cy="252.0" r="1.2" fill="#D55E00" fill-opacity="0.45"/>
<circle cx="218.7" cy="250.0" r="1.2" fill="#D55E00" fill-opacity="0.45"/>
<circle cx="221.8" cy="248.0" r="1.2" fill="#D55E00" fill-opacity="0.45"/>
<circle cx="224.9" cy="246.0" r="1.2" fill="#D55E00" fill-opacity="0.45"/>
<circle cx="228.0" cy="244.0" r="1.2" fill="#D55E00" fill-opacity="0.45"/>
<circle cx="205.0" cy="257.0" r="1.2" fill="#D55E00" fill-opacity="0.45"/>
<circle cx="207.8" cy="255.8" r="1.2" fill="#D55E00" fill-opacity="0.45"/>
<circle cx="210.7" cy="254.7" r="1.2" fill="#D55E00" fill-opacity="0.45"/>
<circle cx="213.5" cy="253.5" r="1.2" fill="#D55E00" fill-opacity="0.45"/>
<circle cx="216.3" cy="252.3" r="1.2" fill="#D55E00" fill-opacity="0.45"/>
<circle cx="219.2" cy="251.2" r="1.2" fill="#D55E00" fill-opacity="0.45"/>
<circle cx="222.0" cy="250.0" r="1.2" fill="#D55E00" fill-opacity="0.45"/>
<circle cx="214" cy="272" r="1.3" fill="#D55E00" fill-opacity="0.6"/>
<circle cx="226" cy="256" r="1.3" fill="#D55E00" fill-opacity="0.6"/>
<circle cx="230" cy="250" r="1.3" fill="#D55E00" fill-opacity="0.6"/>
<circle cx="212" cy="262" r="1.3" fill="#D55E00" fill-opacity="0.6"/>
<circle cx="218" cy="258" r="1.3" fill="#D55E00" fill-opacity="0.6"/>
<circle cx="221" cy="257" r="1.1" fill="#0474BE" fill-opacity="0.9"/>
<circle cx="226" cy="258" r="1.1" fill="#0474BE" fill-opacity="0.9"/>
<circle cx="231" cy="256.5" r="1.1" fill="#0474BE" fill-opacity="0.9"/>
<circle cx="235" cy="256" r="1.1" fill="#0474BE" fill-opacity="0.9"/>
<circle cx="223" cy="255" r="1.1" fill="#0474BE" fill-opacity="0.9"/>
<circle cx="229" cy="255.5" r="1.1" fill="#0474BE" fill-opacity="0.9"/>
<polygon points="242,250 246.5,250 246.5,254 242,254" fill="#D55E00"/>
<line x1="191" y1="287.5" x2="219.5" y2="281.8" stroke="#D55E00" stroke-width="3" stroke-linecap="round"/>
<polygon points="181,289 183.5,289 183.5,291.5 181,291.5" fill="#D55E00" fill-opacity="0.8"/>
<circle cx="158.8" cy="294.7" r="1.1" fill="#D55E00" fill-opacity="0.45"/>
<circle cx="162.0" cy="294.1" r="1.1" fill="#D55E00" fill-opacity="0.45"/>
<circle cx="165.2" cy="293.4" r="1.1" fill="#D55E00" fill-opacity="0.45"/>
<circle cx="168.4" cy="292.8" r="1.1" fill="#D55E00" fill-opacity="0.45"/>
<circle cx="171.7" cy="292.1" r="1.1" fill="#D55E00" fill-opacity="0.45"/>
<circle cx="174.9" cy="291.5" r="1.1" fill="#D55E00" fill-opacity="0.45"/>
<circle cx="178.1" cy="290.9" r="1.1" fill="#D55E00" fill-opacity="0.45"/>
<circle cx="181.3" cy="290.2" r="1.1" fill="#D55E00" fill-opacity="0.45"/>
<circle cx="184.5" cy="289.6" r="1.1" fill="#D55E00" fill-opacity="0.45"/>
<polygon points="125.5,298.5 140,296 155.8,293 156,302 140,305 126,305" fill="#D55E00"/>
<circle cx="263.0" cy="148.5" r="1.3" fill="#D55E00" fill-opacity="0.55"/>
<circle cx="265.2" cy="148.2" r="1.3" fill="#D55E00" fill-opacity="0.55"/>
<circle cx="267.5" cy="148.0" r="1.3" fill="#D55E00" fill-opacity="0.55"/>
<circle cx="269.8" cy="147.8" r="1.3" fill="#D55E00" fill-opacity="0.55"/>
<circle cx="272.0" cy="147.5" r="1.3" fill="#D55E00" fill-opacity="0.55"/>
<circle cx="272.0" cy="149.0" r="1.2" fill="#D55E00" fill-opacity="0.5"/>
<circle cx="273.2" cy="151.2" r="1.2" fill="#D55E00" fill-opacity="0.5"/>
<circle cx="274.4" cy="153.4" r="1.2" fill="#D55E00" fill-opacity="0.5"/>
<circle cx="275.6" cy="155.6" r="1.2" fill="#D55E00" fill-opacity="0.5"/>
<circle cx="276.8" cy="157.8" r="1.2" fill="#D55E00" fill-opacity="0.5"/>
<circle cx="278.0" cy="160.0" r="1.2" fill="#D55E00" fill-opacity="0.5"/>
<circle cx="262" cy="153" r="1.2" fill="#D55E00" fill-opacity="0.45"/>
<circle cx="266" cy="151" r="1.2" fill="#D55E00" fill-opacity="0.45"/>
<circle cx="275" cy="156" r="1.2" fill="#D55E00" fill-opacity="0.45"/>
<circle cx="200" cy="116" r="1.0" fill="#0474BE" fill-opacity="0.8"/>
<circle cx="205" cy="115.5" r="1.0" fill="#0474BE" fill-opacity="0.8"/>
<circle cx="209" cy="116.5" r="1.0" fill="#0474BE" fill-opacity="0.8"/>
<circle cx="201" cy="121" r="1.0" fill="#0474BE" fill-opacity="0.8"/>
<circle cx="205" cy="122" r="1.0" fill="#0474BE" fill-opacity="0.8"/>
<circle cx="209" cy="121.5" r="1.0" fill="#0474BE" fill-opacity="0.8"/>
<circle cx="203" cy="123.5" r="1.0" fill="#0474BE" fill-opacity="0.8"/>
<circle cx="157.7" cy="245.0" r="0.76" fill="#D55E00" fill-opacity="0.34"/>
<circle cx="187.8" cy="246.2" r="0.60" fill="#D55E00" fill-opacity="0.33"/>
<circle cx="234.5" cy="239.5" r="0.81" fill="#D55E00" fill-opacity="0.43"/>
<circle cx="205.1" cy="244.4" r="0.51" fill="#D55E00" fill-opacity="0.37"/>
<circle cx="198.9" cy="238.3" r="0.78" fill="#D55E00" fill-opacity="0.41"/>
<circle cx="172.0" cy="242.8" r="0.61" fill="#D55E00" fill-opacity="0.38"/>
<circle cx="211.0" cy="243.6" r="0.89" fill="#D55E00" fill-opacity="0.25"/>
<circle cx="206.9" cy="244.2" r="0.83" fill="#D55E00" fill-opacity="0.54"/>
<circle cx="219.3" cy="241.6" r="0.56" fill="#D55E00" fill-opacity="0.49"/>
<circle cx="260.2" cy="226.4" r="0.54" fill="#D55E00" fill-opacity="0.44"/>
<circle cx="155.4" cy="245.8" r="0.64" fill="#D55E00" fill-opacity="0.37"/>
<circle cx="193.8" cy="239.0" r="0.76" fill="#D55E00" fill-opacity="0.36"/>
<circle cx="184.1" cy="248.9" r="0.70" fill="#D55E00" fill-opacity="0.36"/>
<circle cx="253.3" cy="226.7" r="0.55" fill="#D55E00" fill-opacity="0.43"/>
<circle cx="229.8" cy="232.5" r="0.63" fill="#D55E00" fill-opacity="0.30"/>
<circle cx="249.7" cy="234.9" r="0.68" fill="#D55E00" fill-opacity="0.48"/>
<circle cx="216.4" cy="235.0" r="0.76" fill="#D55E00" fill-opacity="0.46"/>
<circle cx="208.8" cy="242.9" r="0.78" fill="#D55E00" fill-opacity="0.50"/>
<circle cx="164.3" cy="243.3" r="0.79" fill="#D55E00" fill-opacity="0.43"/>
<circle cx="188.2" cy="240.3" r="0.58" fill="#D55E00" fill-opacity="0.54"/>
<circle cx="234.7" cy="232.0" r="0.76" fill="#D55E00" fill-opacity="0.31"/>
<circle cx="163.9" cy="243.8" r="0.79" fill="#D55E00" fill-opacity="0.38"/>
<circle cx="169.6" cy="243.9" r="0.85" fill="#D55E00" fill-opacity="0.39"/>
<circle cx="148.5" cy="255.1" r="0.70" fill="#D55E00" fill-opacity="0.44"/>
<circle cx="202.3" cy="237.9" r="0.80" fill="#D55E00" fill-opacity="0.25"/>
<circle cx="176.6" cy="249.9" r="0.73" fill="#D55E00" fill-opacity="0.44"/>
<circle cx="248.8" cy="228.1" r="0.76" fill="#D55E00" fill-opacity="0.39"/>
<circle cx="183.6" cy="239.8" r="0.60" fill="#D55E00" fill-opacity="0.37"/>
<circle cx="232.7" cy="232.2" r="0.67" fill="#D55E00" fill-opacity="0.39"/>
<circle cx="222.8" cy="240.8" r="0.76" fill="#D55E00" fill-opacity="0.51"/>
<circle cx="183.1" cy="258.2" r="0.66" fill="#D55E00" fill-opacity="0.40"/>
<circle cx="186.2" cy="251.2" r="0.59" fill="#D55E00" fill-opacity="0.46"/>
<circle cx="184.8" cy="250.8" r="0.54" fill="#D55E00" fill-opacity="0.42"/>
<circle cx="164.1" cy="261.3" r="0.76" fill="#D55E00" fill-opacity="0.50"/>
<circle cx="163.2" cy="262.1" r="0.68" fill="#D55E00" fill-opacity="0.55"/>
<circle cx="143.8" cy="258.5" r="0.75" fill="#D55E00" fill-opacity="0.44"/>
<circle cx="148.7" cy="264.1" r="0.51" fill="#D55E00" fill-opacity="0.38"/>
<circle cx="157.8" cy="262.8" r="0.54" fill="#D55E00" fill-opacity="0.34"/>
<circle cx="155.2" cy="255.6" r="0.88" fill="#D55E00" fill-opacity="0.39"/>
<circle cx="142.7" cy="258.5" r="0.75" fill="#D55E00" fill-opacity="0.39"/>
<circle cx="163.9" cy="254.3" r="0.56" fill="#D55E00" fill-opacity="0.45"/>
<circle cx="179.6" cy="258.2" r="0.62" fill="#D55E00" fill-opacity="0.41"/>
<circle cx="141.9" cy="265.4" r="0.84" fill="#D55E00" fill-opacity="0.33"/>
<circle cx="155.6" cy="264.1" r="0.77" fill="#D55E00" fill-opacity="0.39"/>
<circle cx="178.2" cy="258.2" r="0.76" fill="#D55E00" fill-opacity="0.35"/>
<circle cx="170.9" cy="232.5" r="0.64" fill="#D55E00" fill-opacity="0.53"/>
<circle cx="192.4" cy="229.9" r="0.73" fill="#D55E00" fill-opacity="0.35"/>
<circle cx="198.4" cy="233.9" r="0.51" fill="#D55E00" fill-opacity="0.25"/>
<circle cx="198.7" cy="232.9" r="0.54" fill="#D55E00" fill-opacity="0.29"/>
<circle cx="157.5" cy="240.9" r="0.56" fill="#D55E00" fill-opacity="0.52"/>
<circle cx="188.6" cy="229.4" r="0.78" fill="#D55E00" fill-opacity="0.54"/>
<circle cx="149.2" cy="242.1" r="0.78" fill="#D55E00" fill-opacity="0.41"/>
<circle cx="186.9" cy="236.1" r="0.55" fill="#D55E00" fill-opacity="0.29"/>
<circle cx="167.2" cy="233.7" r="0.72" fill="#D55E00" fill-opacity="0.40"/>
<circle cx="196.1" cy="233.4" r="0.57" fill="#D55E00" fill-opacity="0.43"/>
<circle cx="185.2" cy="229.5" r="0.69" fill="#D55E00" fill-opacity="0.42"/>
<circle cx="182.3" cy="236.3" r="0.67" fill="#D55E00" fill-opacity="0.54"/>
<circle cx="148.5" cy="243.2" r="0.51" fill="#D55E00" fill-opacity="0.43"/>
<circle cx="183.5" cy="237.1" r="0.54" fill="#D55E00" fill-opacity="0.40"/>
<circle cx="186.8" cy="231.0" r="0.79" fill="#D55E00" fill-opacity="0.44"/>
<circle cx="141.7" cy="164.9" r="0.81" fill="#D55E00" fill-opacity="0.39"/>
<circle cx="171.0" cy="159.0" r="0.67" fill="#D55E00" fill-opacity="0.39"/>
<circle cx="166.6" cy="159.7" r="0.70" fill="#D55E00" fill-opacity="0.33"/>
<circle cx="174.9" cy="159.3" r="0.76" fill="#D55E00" fill-opacity="0.45"/>
<circle cx="141.5" cy="165.8" r="0.55" fill="#D55E00" fill-opacity="0.49"/>
<circle cx="128.0" cy="162.8" r="0.72" fill="#D55E00" fill-opacity="0.35"/>
<circle cx="153.7" cy="162.3" r="0.50" fill="#D55E00" fill-opacity="0.30"/>
<circle cx="170.2" cy="153.1" r="0.86" fill="#D55E00" fill-opacity="0.40"/>
<circle cx="154.9" cy="157.5" r="0.77" fill="#D55E00" fill-opacity="0.36"/>
<circle cx="162.2" cy="155.0" r="0.85" fill="#D55E00" fill-opacity="0.36"/>
<circle cx="128.6" cy="162.7" r="0.83" fill="#D55E00" fill-opacity="0.45"/>
<circle cx="153.3" cy="163.6" r="0.57" fill="#D55E00" fill-opacity="0.26"/>
<circle cx="109.2" cy="186.4" r="0.71" fill="#D55E00" fill-opacity="0.46"/>
<circle cx="153.1" cy="184.0" r="0.87" fill="#D55E00" fill-opacity="0.36"/>
<circle cx="109.8" cy="192.1" r="0.90" fill="#D55E00" fill-opacity="0.41"/>
<circle cx="117.9" cy="190.5" r="0.53" fill="#D55E00" fill-opacity="0.37"/>
<circle cx="159.1" cy="177.2" r="0.50" fill="#D55E00" fill-opacity="0.42"/>
<circle cx="164.3" cy="176.7" r="0.55" fill="#D55E00" fill-opacity="0.37"/>
<circle cx="123.7" cy="183.8" r="0.80" fill="#D55E00" fill-opacity="0.48"/>
<circle cx="128.8" cy="182.2" r="0.53" fill="#D55E00" fill-opacity="0.41"/>
<circle cx="149.5" cy="184.8" r="0.86" fill="#D55E00" fill-opacity="0.48"/>
<circle cx="111.2" cy="187.1" r="0.51" fill="#D55E00" fill-opacity="0.41"/>
<circle cx="154.6" cy="178.2" r="0.62" fill="#D55E00" fill-opacity="0.40"/>
<circle cx="163.6" cy="182.1" r="0.63" fill="#D55E00" fill-opacity="0.49"/>
<circle cx="219.3" cy="49.7" r="0.56" fill="#D55E00" fill-opacity="0.45"/>
<circle cx="182.5" cy="44.1" r="0.67" fill="#D55E00" fill-opacity="0.35"/>
<circle cx="225.0" cy="49.2" r="0.73" fill="#D55E00" fill-opacity="0.32"/>
<circle cx="154.8" cy="59.2" r="0.79" fill="#D55E00" fill-opacity="0.25"/>
<circle cx="163.5" cy="57.3" r="0.89" fill="#D55E00" fill-opacity="0.31"/>
<circle cx="186.3" cy="54.2" r="0.86" fill="#D55E00" fill-opacity="0.45"/>
<circle cx="174.9" cy="45.8" r="0.61" fill="#D55E00" fill-opacity="0.29"/>
<circle cx="236.5" cy="37.3" r="0.56" fill="#D55E00" fill-opacity="0.47"/>
<circle cx="243.5" cy="36.4" r="0.84" fill="#D55E00" fill-opacity="0.45"/>
<circle cx="215.0" cy="49.6" r="0.53" fill="#D55E00" fill-opacity="0.39"/>
<circle cx="224.5" cy="37.9" r="0.79" fill="#D55E00" fill-opacity="0.50"/>
<circle cx="177.3" cy="44.8" r="0.69" fill="#D55E00" fill-opacity="0.30"/>
<circle cx="172.0" cy="45.3" r="0.68" fill="#D55E00" fill-opacity="0.27"/>
<circle cx="225.5" cy="39.0" r="0.73" fill="#D55E00" fill-opacity="0.47"/>
<circle cx="234.4" cy="47.2" r="0.74" fill="#D55E00" fill-opacity="0.30"/>
<circle cx="166.0" cy="46.1" r="0.62" fill="#D55E00" fill-opacity="0.39"/>
<circle cx="182.2" cy="45.0" r="0.87" fill="#D55E00" fill-opacity="0.37"/>
<circle cx="232.7" cy="47.8" r="0.81" fill="#D55E00" fill-opacity="0.29"/>
<circle cx="206.5" cy="50.7" r="0.74" fill="#D55E00" fill-opacity="0.27"/>
<circle cx="168.7" cy="56.6" r="0.59" fill="#D55E00" fill-opacity="0.48"/>
<circle cx="174.4" cy="44.6" r="0.81" fill="#D55E00" fill-opacity="0.45"/>
<circle cx="242.1" cy="46.9" r="0.64" fill="#D55E00" fill-opacity="0.50"/>
<circle cx="184.2" cy="45.1" r="0.72" fill="#D55E00" fill-opacity="0.47"/>
<circle cx="191.7" cy="42.4" r="0.76" fill="#D55E00" fill-opacity="0.48"/>
<circle cx="215.8" cy="40.3" r="0.73" fill="#D55E00" fill-opacity="0.41"/>
<circle cx="241.2" cy="45.6" r="0.84" fill="#D55E00" fill-opacity="0.34"/>
<circle cx="170.3" cy="46.8" r="0.88" fill="#D55E00" fill-opacity="0.49"/>
<circle cx="153.1" cy="47.8" r="0.52" fill="#D55E00" fill-opacity="0.45"/>
<circle cx="217.3" cy="48.7" r="0.56" fill="#D55E00" fill-opacity="0.44"/>
<circle cx="239.7" cy="46.7" r="0.68" fill="#D55E00" fill-opacity="0.41"/>
<polygon points="411.4,181.6 415,181.6 415.7,183.7 417.1,185.9 417.4,190.9 415,193.7 410,198 407.1,201.6 404.3,200.9 404,192.3 405.7,188.7 408.6,185.9 411.4,184.4" fill="#D55E00"/>
<polygon points="398.6,207.3 406.4,206.6 407.4,208 407.1,213.7 404.3,217.3 400.7,220.9 397.9,223.7 395,224.4 394,220.9 394.3,215.1 396.4,210.1" fill="#D55E00"/>
<polygon points="385.1,240 387.7,240 388.3,242.3 388,245.7 386.3,248 383.4,248.9 382,248 381.7,245.1 383.4,242.6" fill="#D55E00"/>
</g>
<!-- ellipses -->
<ellipse cx="291.05" cy="210.53" rx="226.97" ry="95.09" transform="rotate(-9.07 291.05 210.53)" fill="none" stroke="#D55E00" stroke-width="1.9"/>
<ellipse cx="224.54" cy="172.93" rx="98.66" ry="64.73" transform="rotate(77.1 224.54 172.93)" fill="none" stroke="#0072B2" stroke-width="1.9"/>
<!-- centroids -->
<path d="M-2,-5.1h4v3.1h3.1v4h-3.1v3.1h-4v-3.1h-3.1v-4h3.1z" transform="translate(224.8 173.6)" fill="#1380CC" stroke="#111" stroke-width="1"/>
<path d="M-2,-5.1h4v3.1h3.1v4h-3.1v3.1h-4v-3.1h-3.1v-4h3.1z" transform="translate(292.5 211.6)" fill="#EA6A05" stroke="#111" stroke-width="1"/>
<!-- spines -->
<rect x="47.6" y="22" width="490.8" height="296.4" fill="none" stroke="#333" stroke-width="0.9"/>
<!-- ticks -->
<g stroke="#333" stroke-width="0.9">
<line x1="98.2" y1="318" x2="98.2" y2="320.9"/>
<line x1="178.5" y1="318" x2="178.5" y2="320.9"/>
<line x1="258.9" y1="318" x2="258.9" y2="320.9"/>
<line x1="339.3" y1="318" x2="339.3" y2="320.9"/>
<line x1="419.6" y1="318" x2="419.6" y2="320.9"/>
<line x1="500" y1="318" x2="500" y2="320.9"/>
<line x1="44.8" y1="66.3" x2="47.6" y2="66.3"/>
<line x1="44.8" y1="129.55" x2="47.6" y2="129.55"/>
<line x1="44.8" y1="192.8" x2="47.6" y2="192.8"/>
<line x1="44.8" y1="256.05" x2="47.6" y2="256.05"/>
</g>
<!-- explained variance box -->
<rect x="48.5" y="305.3" width="256" height="13.4" rx="1.5" fill="#fff" fill-opacity="0.8" stroke="#d0d0d0" stroke-width="0.8"/>
<text x="52" y="316.6" font-size="8" style="stroke-width:0.12px">Explained variance — PC1: 36.6% • PC2: 20.6% (Total: 57.2%)</text>
<g font-size="7.65" text-anchor="middle">
<text x="98.2" y="330.3">−1.0</text>
<text x="178.5" y="330.3">−0.5</text>
<text x="258.9" y="330.3">0.0</text>
<text x="339.3" y="330.3">0.5</text>
<text x="419.6" y="330.3">1.0</text>
<text x="500" y="330.3">1.5</text>
</g>
<g font-size="7.65" text-anchor="end">
<text x="41.3" y="69.2">1.0</text>
<text x="41.3" y="132.4">0.5</text>
<text x="41.3" y="195.7">0.0</text>
<text x="41.3" y="258.9">−0.5</text>
</g>
<text x="292.5" y="343.3" font-size="9.65" text-anchor="middle">Principal Component 1</text>
<text transform="translate(16 170.5) rotate(-90)" font-size="9.65" text-anchor="middle">Principal Component 2</text>
<text x="293" y="14" font-size="11.25" text-anchor="middle">Normal vs. Anomalous Traffic in PCA Space (post-SMOTE)</text>
<!-- legend -->
<rect x="407.9" y="25.6" width="126.3" height="74.6" rx="2" fill="#fff" fill-opacity="0.92" stroke="#d8d8d8" stroke-width="0.9"/>
<circle cx="418.7" cy="33.1" r="1.2" fill="#0072B2" fill-opacity="0.35"/>
<circle cx="418.7" cy="45.2" r="1.2" fill="#D55E00" fill-opacity="0.35"/>
<path d="M-2,-5.1h4v3.1h3.1v4h-3.1v3.1h-4v-3.1h-3.1v-4h3.1z" transform="translate(418.6 57.4)" fill="#1380CC" stroke="#111" stroke-width="1"/>
<path d="M-2,-5.1h4v3.1h3.1v4h-3.1v3.1h-4v-3.1h-3.1v-4h3.1z" transform="translate(418.6 69.5)" fill="#EA6A05" stroke="#111" stroke-width="1"/>
<rect x="411.2" y="78.2" width="16.2" height="5.5" fill="none" stroke="#0072B2" stroke-width="1.5"/>
<rect x="411.2" y="90.3" width="16.2" height="5.5" fill="none" stroke="#D55E00" stroke-width="1.5"/>
<g font-size="8" style="stroke-width:0.12px">
<text x="433.6" y="35.5">Normal (n=903,982)</text>
<text x="433.6" y="47.4">Anomalous (n=903,982)</text>
<text x="433.6" y="59.3">Normal centroid</text>
<text x="433.6" y="71.2">Anomalous centroid</text>
<text x="433.6" y="83.1">Normal 95% ellipse</text>
<text x="433.6" y="95.0">Anomalous 95% ellipse</text>
</g>
</svg>
</body></html>
